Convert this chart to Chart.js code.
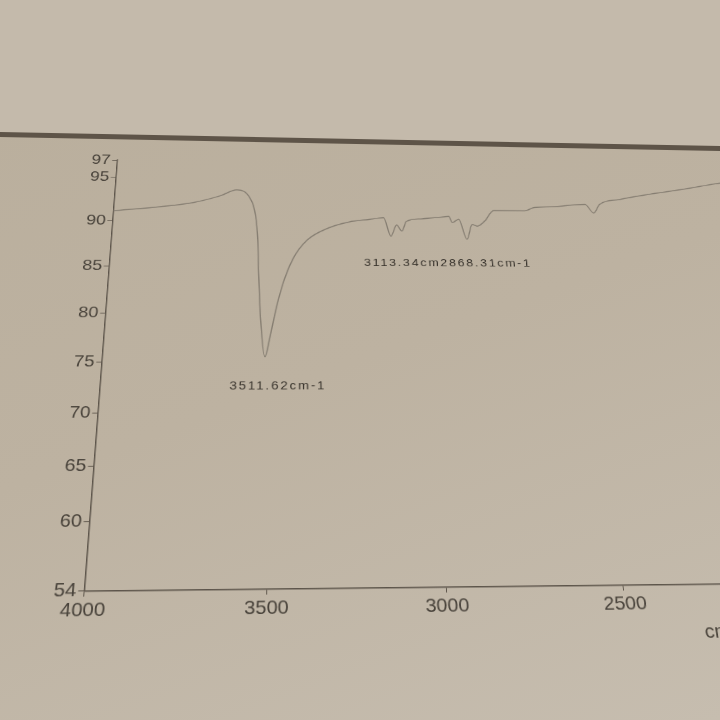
<!DOCTYPE html>
<html>
<head>
<meta charset="utf-8">
<script src="https://cdn.jsdelivr.net/npm/chart.js@4"></script>
<style>
  html, body { margin: 0; padding: 0; }
  body {
    width: 720px; height: 720px; overflow: hidden; position: relative;
    background: linear-gradient(160deg, #b9ae9c 0%, #bdb2a1 50%, #c6bdaf 100%);
  }
  #upper {
    position: absolute; left: 0; top: 0; width: 720px; height: 160px;
    background: #c4baab;
    clip-path: polygon(0 0, 720px 0, 720px 147px, 0 133px);
  }
  #edge {
    position: absolute; left: 0; top: 0; width: 720px; height: 160px;
    background: #5e5448;
    clip-path: polygon(0 132px, 720px 146px, 720px 151px, 0 137px);
  }
  #flat { position: absolute; left: 0; top: 0; transform-origin: 0 0; }
</style>
</head>
<body>
<div id="upper"></div>
<div id="edge"></div>
<canvas id="flat" width="1420" height="640"></canvas>
<script>
// IR spectrum (cm-1 vs %T)
const wavenumbers = [4000, 3852, 3747, 3661, 3608, 3564, 3547, 3538, 3534, 3526,
  3511.62, 3498, 3481, 3460, 3427, 3382, 3313, 3246, 3182, 3134,
  3113.34, 3093, 3077, 3061, 3013, 2948, 2922, 2912, 2890, 2868.31,
  2848, 2832, 2806, 2774, 2672, 2639, 2582, 2470, 2445, 2422,
  2354, 2241, 2128, 2013, 1985];
const transmittance = [91.1, 91.6, 92.1, 92.9, 93.6, 92.6, 90.8, 87.9, 84.4, 79.4,
  75.5, 77.3, 80.1, 82.9, 85.8, 87.9, 89.3, 90.0, 90.3, 90.5,
  88.4, 89.7, 89.0, 90.1, 90.4, 90.6, 90.7, 90.0, 90.4, 88.1,
  89.8, 89.6, 90.2, 91.4, 91.4, 91.8, 91.9, 92.2, 91.2, 92.2,
  92.8, 93.5, 94.1, 94.8, 94.9];
const yTicks = [54, 60, 65, 70, 75, 80, 85, 90, 95, 97];
const xTicks = [4000, 3500, 3000, 2500, 2000, 1500, 1000, 500];
const peakLabels = [
  { wn: 3511.62, t: 75.5, text: "3511.62cm-1", dx: -40, dy: 37 },
  { wn: 3113.34, t: 88.4, text: "3113.34cm2868.31cm-1", dx: -34, dy: 38 }
];

const ink = "#48423a";
const axisInk = "#5c544a";

const peakText = {
  id: "peakText",
  afterDatasetsDraw(chart) {
    const ctx = chart.ctx, xs = chart.scales.x, ys = chart.scales.y;
    ctx.save();
    ctx.fillStyle = "#37322b";
    ctx.font = "15px 'Liberation Sans', Arial, sans-serif";
    ctx.letterSpacing = "2.2px";
    ctx.textAlign = "left";
    ctx.textBaseline = "middle";
    peakLabels.forEach(p => {
      ctx.fillText(p.text, xs.getPixelForValue(p.wn) + p.dx, ys.getPixelForValue(p.t) + p.dy);
    });
    ctx.restore();
  }
};

const tickFont = { family: "'Liberation Sans', Arial", size: 21 };

const chart = new Chart(document.getElementById("flat"), {
  type: "line",
  data: {
    datasets: [{
      data: wavenumbers.map((w, i) => ({ x: w, y: transmittance[i] })),
      borderColor: "#857d71",
      borderWidth: 1.5,
      pointRadius: 0,
      cubicInterpolationMode: "monotone",
      fill: false
    }]
  },
  options: {
    responsive: false,
    animation: false,
    layout: { padding: { left: 20, top: 30, right: 10, bottom: 0 } },
    plugins: { legend: { display: false }, tooltip: { enabled: false } },
    scales: {
      x: {
        type: "linear", reverse: true, min: 450, max: 4000,
        afterBuildTicks: a => { a.ticks = xTicks.map(v => ({ value: v })); },
        ticks: { color: ink, font: tickFont, padding: 2, maxRotation: 0, autoSkip: false, callback: v => String(v) },
        grid: { drawOnChartArea: false, color: axisInk, tickLength: 6 },
        border: { color: axisInk, width: 1.5 },
        title: { display: true, text: "cm-1", color: ink, font: tickFont, padding: { top: 4 } }
      },
      y: {
        min: 54, max: 97,
        afterBuildTicks: a => { a.ticks = yTicks.map(v => ({ value: v })); },
        ticks: { color: ink, font: tickFont, padding: 2, autoSkip: false, callback: v => String(v) },
        grid: { drawOnChartArea: false, color: axisInk, tickLength: 6 },
        border: { color: axisInk, width: 1.5 }
      }
    }
  },
  plugins: [peakText]
});

// photo is shot at an angle: map the flat chart onto the page with a homography
function homography(src, dst) {
  const A = [];
  for (let i = 0; i < 4; i++) {
    const [x, y] = src[i], [u, v] = dst[i];
    A.push([x, y, 1, 0, 0, 0, -x * u, -y * u, u]);
    A.push([0, 0, 0, x, y, 1, -x * v, -y * v, v]);
  }
  for (let c = 0; c < 8; c++) {
    let p = c;
    for (let r = c + 1; r < 8; r++) if (Math.abs(A[r][c]) > Math.abs(A[p][c])) p = r;
    [A[c], A[p]] = [A[p], A[c]];
    for (let r = 0; r < 8; r++) {
      if (r === c) continue;
      const f = A[r][c] / A[c][c];
      for (let k = c; k < 9; k++) A[r][k] -= f * A[c][k];
    }
  }
  return A.map((row, i) => row[8] / row[i]);
}

const xs = chart.scales.x, ys = chart.scales.y;
const src = [
  [xs.getPixelForValue(4000), ys.getPixelForValue(54)],
  [xs.getPixelForValue(4000), ys.getPixelForValue(97)],
  [xs.getPixelForValue(2500), ys.getPixelForValue(54)],
  [xs.getPixelForValue(2500), ys.getPixelForValue(97)]
];
const dst = [[84, 591], [117, 160], [623, 585], [571, 164]];
const h = homography(src, dst);
document.getElementById("flat").style.transform =
  `matrix3d(${h[0]},${h[3]},0,${h[6]},${h[1]},${h[4]},0,${h[7]},0,0,1,0,${h[2]},${h[5]},0,1)`;
</script>
</body>
</html>
